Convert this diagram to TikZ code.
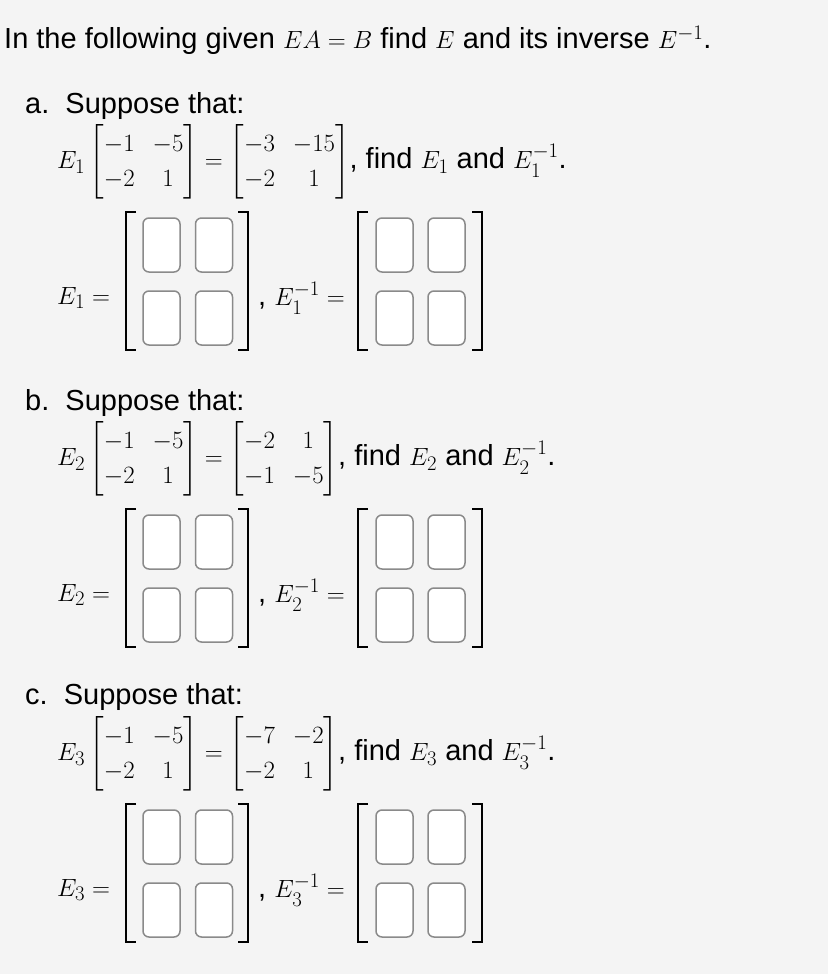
\documentclass[tikz,border=0pt]{standalone}
\usepackage{amsmath}
\usepackage[no-math]{fontspec}
\setmainfont{Liberation Sans}
\definecolor{bg}{HTML}{F4F4F4}
\definecolor{boxline}{HTML}{8A8A8A}
\setlength{\arraycolsep}{9pt}
\tikzset{
  txt/.style={anchor=west,inner sep=0pt,font=\fontsize{29}{35}\selectfont},
  ansbox/.style={draw=boxline,fill=white,line width=1.5pt,rounded corners=6pt,minimum width=37pt,minimum height=54pt,inner sep=0pt},
  brk/.style={line width=2.5pt,black}
}
\newcommand\answerrow[3]{%
 \begin{scope}[yshift=-#1pt]
  \node[txt] (#3lhs) at (57,298) {$E_#2 =$};
  \draw[brk] (136,212) -- (126,212) -- (126,350) -- (136,350);
  \draw[brk] (238,212) -- (248,212) -- (248,350) -- (238,350);
  \node[ansbox] (#3a) at (161.5,245) {};
  \node[ansbox] (#3b) at (214,245) {};
  \node[ansbox] (#3c) at (161.5,318) {};
  \node[ansbox] (#3d) at (214,318) {};
  \node[txt] (#3inv) at (258,298) {, $E_#2^{-1} =$};
  \draw[brk] (368,212) -- (358,212) -- (358,350) -- (368,350);
  \draw[brk] (472,212) -- (482,212) -- (482,350) -- (472,350);
  \node[ansbox] (#3e) at (394.5,245) {};
  \node[ansbox] (#3f) at (446.5,245) {};
  \node[ansbox] (#3g) at (394.5,318) {};
  \node[ansbox] (#3h) at (446.5,318) {};
 \end{scope}}
\begin{document}
\begin{tikzpicture}[x=1pt,y=-1pt]
\fill[bg] (0,0) rectangle (828,974);
\useasboundingbox (0,0) rectangle (828,974);
\node[txt] (title) at (4,40) {In the following given $EA=B$ find $E$ and its inverse $E^{-1}$.};
% part a
\node[txt] (la) at (25,106) {a.\ \ Suppose that:};
\node[txt] (eqa) at (57,162) {$E_1\begin{bmatrix}-1&-5\\-2&1\end{bmatrix}=\begin{bmatrix}-3&-15\\-2&1\end{bmatrix}$, find $E_1$ and $E_1^{-1}$.};
\answerrow{0}{1}{ra}
% part b
\node[txt] (lb) at (25,403) {b.\ \ Suppose that:};
\node[txt] (eqb) at (57,459) {$E_2\begin{bmatrix}-1&-5\\-2&1\end{bmatrix}=\begin{bmatrix}-2&1\\-1&-5\end{bmatrix}$, find $E_2$ and $E_2^{-1}$.};
\answerrow{297}{2}{rb}
% part c
\node[txt] (lc) at (25,697) {c.\ \ Suppose that:};
\node[txt] (eqc) at (57,754) {$E_3\begin{bmatrix}-1&-5\\-2&1\end{bmatrix}=\begin{bmatrix}-7&-2\\-2&1\end{bmatrix}$, find $E_3$ and $E_3^{-1}$.};
\answerrow{592}{3}{rc}
\end{tikzpicture}
\end{document}
